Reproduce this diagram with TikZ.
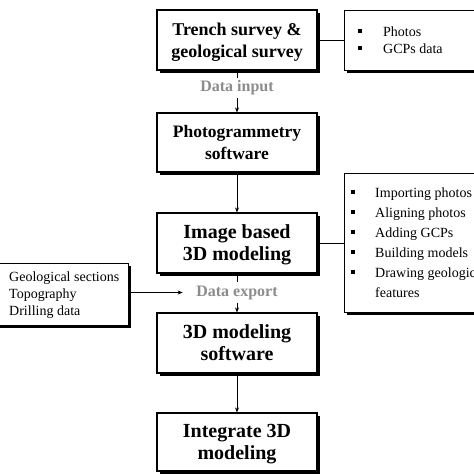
\documentclass[tikz,border=0pt]{standalone}
\usepackage{fontspec}
\setmainfont{Liberation Serif}
\usetikzlibrary{shadows,arrows.meta}
\begin{document}
\begin{tikzpicture}[x=1pt,y=-1pt,
  shad/.style={drop shadow={opacity=1, fill=black, shadow xshift=2.5pt, shadow yshift=-2.5pt}},
  box/.style={draw, line width=1.2pt, fill=white, shad, minimum width=160pt, minimum height=60pt,
    align=center, font=\bfseries\fontsize{20}{22}\selectfont, text depth=0pt, inner sep=0pt},
  sidebox/.style={draw, line width=1pt, fill=white, shad, inner sep=0pt},
  item/.style={anchor=base west, font=\fontsize{14}{17}\selectfont, inner sep=0pt},
  bul/.style={fill=black, minimum size=4pt, inner sep=0pt},
  lbl/.style={font=\bfseries\fontsize{16}{18}\selectfont, text={rgb,255:red,140;green,140;blue,140}, minimum height=20pt, inner sep=0pt},
  conn/.style={line width=0.8pt},
  arr/.style={conn, -{Stealth[length=5pt,width=4pt]}}]
\useasboundingbox (0,0) rectangle (474,474);
\clip (0,0) rectangle (474,474);

% side boxes
\node[sidebox, minimum width=146pt, minimum height=60pt] (photosbox) at (417,40) {};
\node[sidebox, minimum width=146pt, minimum height=139pt] (stepsbox) at (417,242.5) {};
\node[sidebox, minimum width=140pt, minimum height=62pt] (srcbox) at (58,294) {};

% main boxes
\node[box, font=\bfseries\fontsize{18}{22}\selectfont] (trench) at (237,40) {Trench survey \&\\geological survey};
\node[box, font=\bfseries\fontsize{17.5}{22}\selectfont, minimum height=59pt] (photog) at (237,142.5) {Photogrammetry\\software};
\node[box] (image) at (237,243) {Image based\\3D modeling};
\node[box] (soft) at (237,343) {3D modeling\\software};
\node[box, minimum height=58pt] (integ) at (237,442) {Integrate 3D\\modeling};

% labels
\node[lbl] (din) at (237,88) {Data input};
\node[lbl] (dexp) at (237,292.5) {Data export};

% photos list
\node[bul] (pb1) at (360,30.5) {};
\node[item] (pt1) at (383,36) {Photos};
\node[bul] (pb2) at (360,47.5) {};
\node[item] (pt2) at (383,53) {GCPs data};

% steps list
\node[bul] (sb1) at (352.5,191.5) {};
\node[item] (st1) at (375,197) {Importing photos};
\node[bul] (sb2) at (352.5,211.5) {};
\node[item] (st2) at (375,217) {Aligning photos};
\node[bul] (sb3) at (352.5,231.5) {};
\node[item] (st3) at (375,237) {Adding GCPs};
\node[bul] (sb4) at (352.5,251.5) {};
\node[item] (st4) at (375,257) {Building models};
\node[bul] (sb5) at (352.5,271.5) {};
\node[item] (st5) at (375,277) {Drawing geological};
\node[item] (st6) at (375,297) {features};

% source list
\node[item] (lt1) at (9,281) {Geological sections};
\node[item] (lt2) at (9,298) {Topography};
\node[item] (lt3) at (9,315) {Drilling data};

% connectors
\draw[conn] (trench) -- (din);
\draw[arr] (din) -- (photog);
\draw[arr] (photog) -- (image);
\draw[conn] (image) -- (dexp);
\draw[arr] (dexp) -- (soft);
\draw[arr] (soft) -- (integ);
\draw[conn] (trench.east) -- (photosbox.west |- trench.east);
\draw[conn] (image.east) -- (image.east -| stepsbox.west);
\draw[arr] (srcbox.east |- dexp) -- ([xshift=-13.5pt]dexp.west);
\end{tikzpicture}
\end{document}
